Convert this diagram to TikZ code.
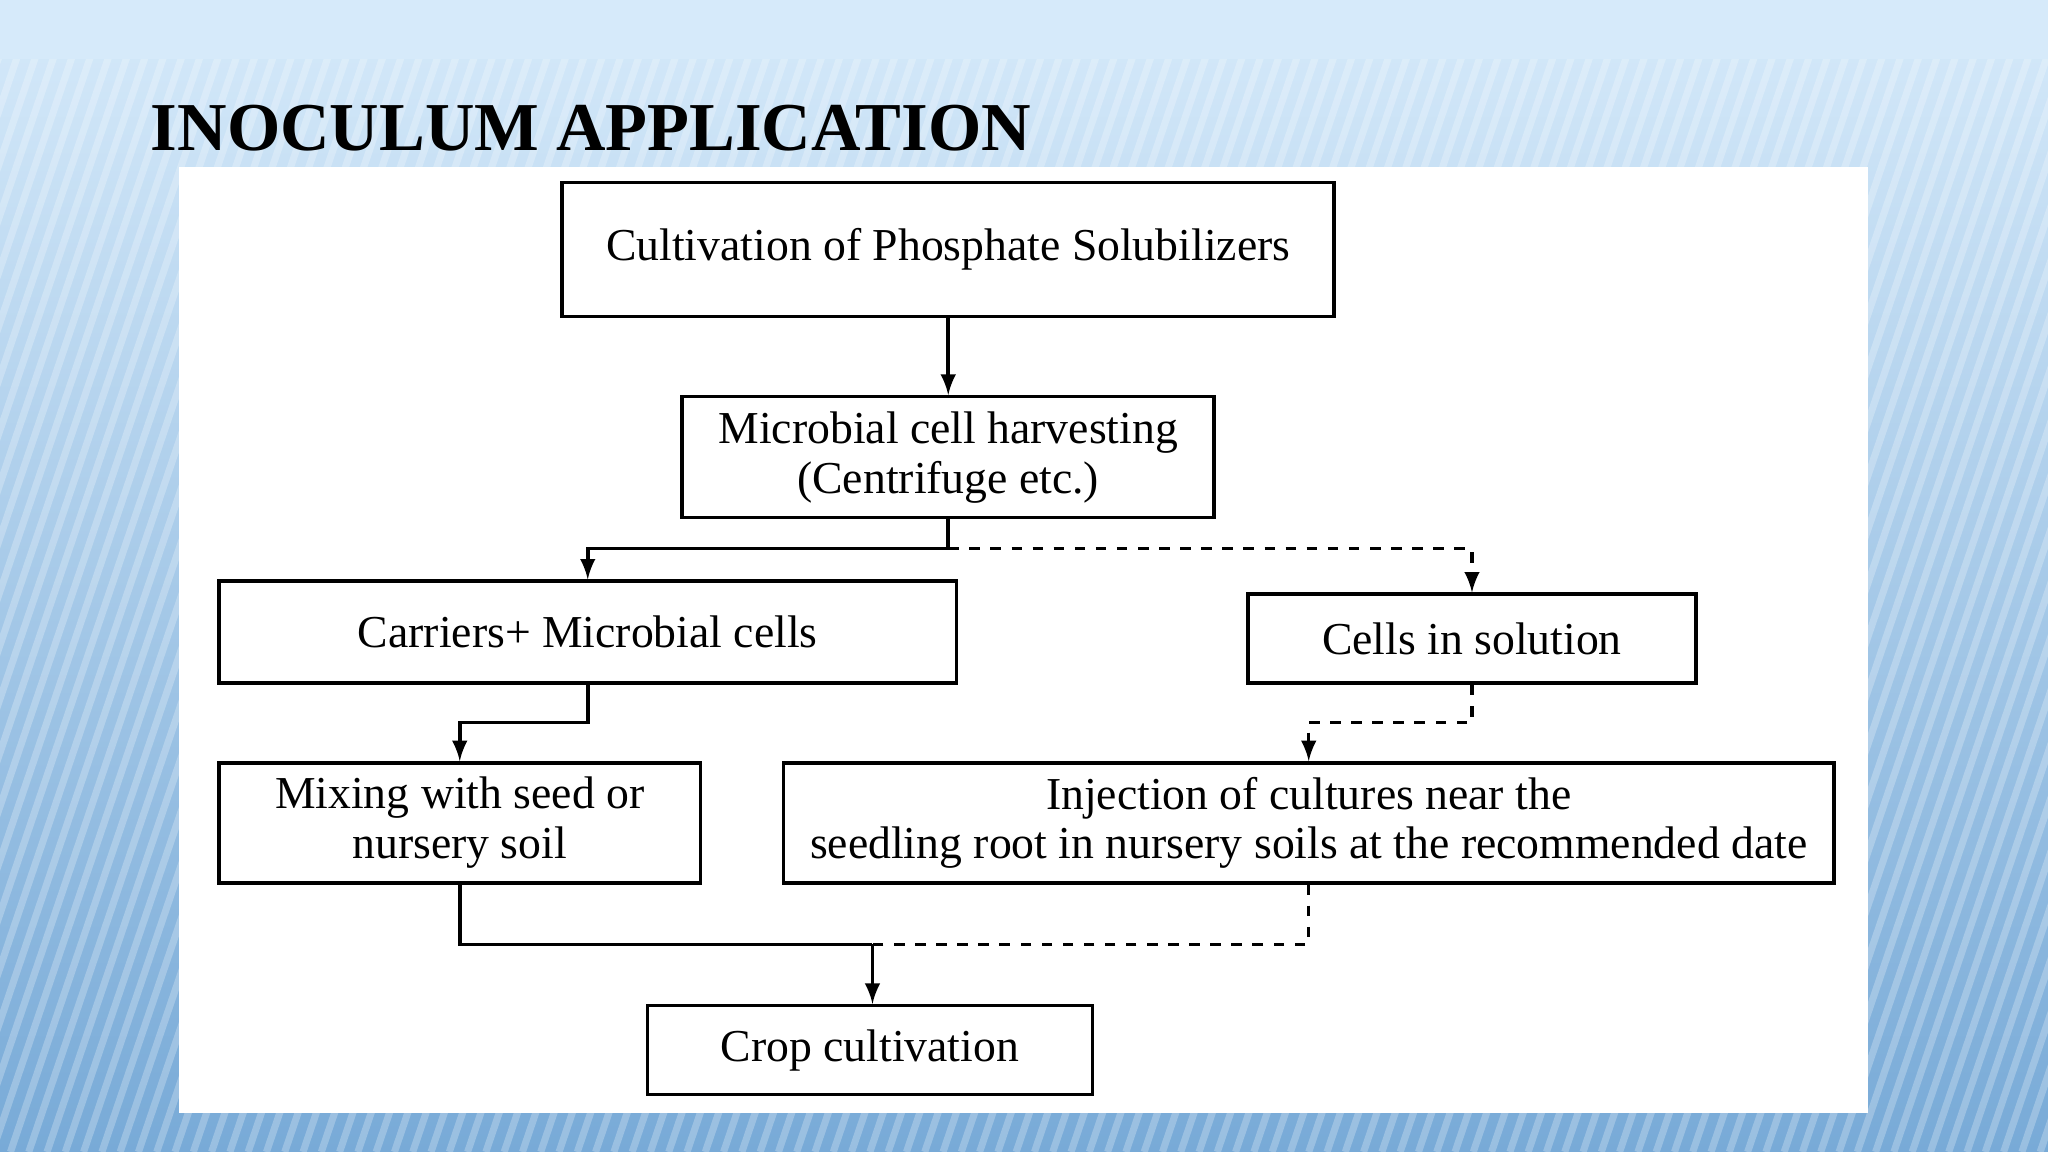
\documentclass[tikz,border=0pt]{standalone}
\usepackage{fontspec}
\setmainfont{Liberation Serif}
\definecolor{skytop}{RGB}{214,234,250}
\definecolor{skybot}{RGB}{120,170,215}
\tikzset{
    box/.style={draw, line width=1pt, fill=white, inner sep=2pt, align=center, font=\fontsize{13}{14.2}\selectfont},
    flow/.style={line width=1pt, -latex},
    dflow/.style={line width=1pt, -latex, dashed}
}
\begin{document}
\begin{tikzpicture}[x=0.01306cm, y=-0.01306cm]
    \useasboundingbox (0,0) rectangle (1568,882);
    % background
    \shade[top color=skytop, bottom color=skybot] (0,0) rectangle (1568,882);
    \foreach \i in {0,14,...,1900}
        \draw[white, opacity=0.25, line width=2pt] (\i-300,882) -- (\i,0);
    \fill[skytop] (0,0) rectangle (1568,45);
    \fill[white] (137,128) rectangle (1430,852);

    \node[anchor=west, font=\bfseries\fontsize{19.5}{22}\selectfont] at (106,98) {INOCULUM APPLICATION};

    \node[box, minimum width=7.72cm, minimum height=1.34cm] (cult) at (726,191) {Cultivation of Phosphate Solubilizers};
    \node[box, minimum width=5.32cm, minimum height=1.21cm] (harv) at (726,350) {Microbial cell harvesting\\(Centrifuge etc.)};
    \node[box, minimum width=7.37cm, minimum height=1.02cm] (carr) at (450,484) {Carriers+ Microbial cells};
    \node[box, minimum width=4.48cm, minimum height=0.89cm] (cells) at (1127,489) {Cells in solution};
    \node[box, minimum width=4.81cm, minimum height=1.2cm] (mix) at (352,630) {Mixing with seed or\\nursery soil};
    \node[box, minimum width=10.5cm, minimum height=1.2cm] (inj) at (1002,630) {Injection of cultures near the\\seedling root in nursery soils at the recommended date};
    \node[box, minimum width=4.45cm, minimum height=0.89cm] (crop) at (666,804) {Crop cultivation};

    \coordinate (split) at (726,420);
    \coordinate (join) at (668,723);

    \draw[flow] (cult) -- (harv);
    \draw[line width=1pt] (harv.south) -- (split);
    \draw[flow] (split) -| (carr.north);
    \draw[dflow] (split) -| (cells.north);
    \draw[flow] (carr.south) |- (352,553) -- (mix.north);
    \draw[dflow] (cells.south) |- (1002,553) -- (inj.north);
    \draw[line width=1pt] (mix.south) |- (join);
    \draw[line width=1pt, dashed] (inj.south) |- (join);
    \draw[flow] (join) -- (join |- crop.north);
\end{tikzpicture}
\end{document}
